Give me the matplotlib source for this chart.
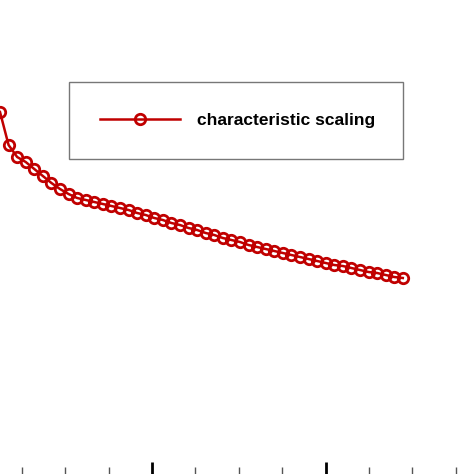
import numpy as np
import matplotlib.pyplot as plt
from matplotlib.ticker import MultipleLocator, NullFormatter

# values (x in tick units, y in arbitrary units)
y_px = [112, 145, 157, 162, 169, 176, 183, 189, 194, 198,
        200, 202, 204, 206, 208, 210, 213, 215, 218, 220,
        223, 225, 228, 230, 233, 235, 238, 240, 242, 245,
        247, 249, 251, 253, 255, 257, 259, 261, 263, 265,
        266, 268, 270, 272, 273, 275, 277, 278]
x_vals = np.linspace(-3.5, 5.78, len(y_px))
y_vals = [(474 - v) / 100 for v in y_px]

plt.rcParams['font.family'] = ['Liberation Sans', 'DejaVu Sans']

fig = plt.figure(figsize=(4.74, 4.74), dpi=100)
ax = fig.add_axes([0, 0, 1, 1])
ax.plot(x_vals, y_vals, color='#c00000', lw=1.8, marker='o', ms=7.5,
        mfc='none', mew=2.0, label='characteristic scaling')
ax.set_xlim(-3.5, 7.42)
ax.set_ylim(0, 4.74)
for s in ax.spines.values():
    s.set_visible(False)
ax.xaxis.set_major_locator(MultipleLocator(4))
ax.xaxis.set_minor_locator(MultipleLocator(1))
ax.xaxis.set_major_formatter(NullFormatter())
ax.tick_params(axis='x', which='major', direction='in', length=9, width=2, color='black')
ax.tick_params(axis='x', which='minor', direction='in', length=5, width=1, color='#555555')
ax.set_yticks([])

leg = ax.legend(loc='center', bbox_to_anchor=(69/474, 1-161/474, 334/474, 81/474),
                mode='expand', fancybox=False, edgecolor='#555555', borderpad=1.8,
                handlelength=4.6, handletextpad=1.0, borderaxespad=0,
                prop={'weight': 'bold', 'size': 12.5})
leg.get_frame().set_linewidth(1)

fig.savefig('out.png', dpi=100)
